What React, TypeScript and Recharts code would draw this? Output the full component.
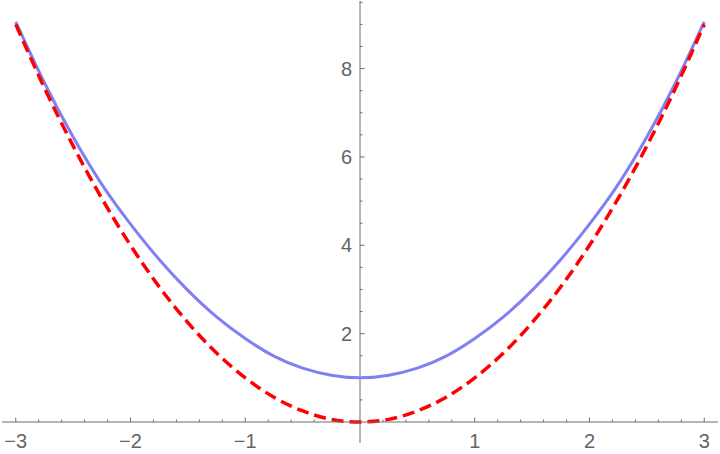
import React from "react";
import { LineChart, Line, XAxis, YAxis, ReferenceLine, ReferenceDot } from "recharts";

// values, step 0.25
const xs = [
  -3, -2.75, -2.5, -2.25, -2, -1.75, -1.5, -1.25, -1, -0.75, -0.5, -0.25, 0,
  0.25, 0.5, 0.75, 1, 1.25, 1.5, 1.75, 2, 2.25, 2.5, 2.75, 3,
];
const blueCurve = [
  9.06, 7.68, 6.45, 5.38, 4.48, 3.68, 2.98, 2.38, 1.89, 1.49, 1.22, 1.06, 1.0,
  1.06, 1.22, 1.49, 1.89, 2.38, 2.98, 3.68, 4.48, 5.38, 6.45, 7.68, 9.06,
];
const redCurve = [
  9.0, 7.56, 6.25, 5.06, 4.0, 3.06, 2.25, 1.56, 1.0, 0.56, 0.25, 0.06, 0.0,
  0.06, 0.25, 0.56, 1.0, 1.56, 2.25, 3.06, 4.0, 5.06, 6.25, 7.56, 9.0,
];

const xTicks = [
  -3, -2.8, -2.6, -2.4, -2.2, -2, -1.8, -1.6, -1.4, -1.2, -1, -0.8, -0.6, -0.4, -0.2, 0,
  0.2, 0.4, 0.6, 0.8, 1, 1.2, 1.4, 1.6, 1.8, 2, 2.2, 2.4, 2.6, 2.8, 3,
];
const yMajor = [2, 4, 6, 8];
const yMinor = [0.5, 1, 1.5, 2.5, 3, 3.5, 4.5, 5, 5.5, 6.5, 7, 7.5, 8.5, 9, 9.5];

const data = xs.map((x, i) => ({ x, blue: blueCurve[i], red: redCurve[i] }));

const AXIS = "#6e6e6e";
const LABEL = "#646464";
const FONT = "'Liberation Sans', Arial, sans-serif";

function XTick(props: any) {
  const { x, y, payload } = props;
  const v = payload.value;
  const major = Math.abs(v - Math.round(v)) < 1e-6;
  if (Math.abs(v) < 1e-6) return null;
  return (
    <g>
      <line x1={x} x2={x} y1={y} y2={y - (major ? 4.5 : 2.5)} stroke={AXIS} strokeWidth={1} />
      {major && (
        <text x={x} y={y + 25.5} textAnchor="middle" fill={LABEL} fontSize={20} fontFamily={FONT}>
          {v < 0 ? "\u2212" + Math.abs(v) : String(v)}
        </text>
      )}
    </g>
  );
}

export default function App() {
  return (
    <div style={{ position: "absolute", left: 0, top: 0, background: "#fff" }}>
      <LineChart width={720} height={454} data={data} margin={{ top: 1, right: 2, bottom: 0, left: 2 }}>
        <XAxis
          dataKey="x"
          type="number"
          domain={[-3.12, 3.12]}
          ticks={xTicks}
          interval={0}
          tickSize={0}
          tickMargin={0}
          height={32}
          tick={<XTick />}
          axisLine={{ stroke: AXIS, strokeWidth: 1 }}
          tickLine={false}
        />
        <YAxis type="number" domain={[0, 9.53]} hide />
        <ReferenceLine
          segment={[{ x: 0, y: -0.475 }, { x: 0, y: 9.53 }]}
          stroke={AXIS}
          strokeWidth={1}
          ifOverflow="visible"
        />
        {yMinor.map((v) => (
          <ReferenceLine
            key={"m" + v}
            segment={[{ x: 0, y: v }, { x: 0.022, y: v }]}
            stroke={AXIS}
            strokeWidth={1}
            ifOverflow="visible"
          />
        ))}
        {yMajor.map((v) => (
          <ReferenceLine
            key={"M" + v}
            segment={[{ x: 0, y: v }, { x: 0.04, y: v }]}
            stroke={AXIS}
            strokeWidth={1}
            ifOverflow="visible"
          />
        ))}
        {yMajor.map((v) => (
          <ReferenceDot
            key={"L" + v}
            x={0}
            y={v}
            r={0}
            stroke="none"
            fill="none"
            label={{ value: String(v), position: "left", offset: 8, fill: LABEL, fontSize: 20, fontFamily: FONT }}
          />
        ))}
        <Line
          dataKey="blue"
          type="natural"
          stroke="#8080f4"
          strokeWidth={3}
          dot={false}
          activeDot={false}
          isAnimationActive={false}
        />
        <Line
          dataKey="red"
          type="natural"
          stroke="#ff0000"
          strokeWidth={3.5}
          strokeDasharray="12 6"
          dot={false}
          activeDot={false}
          isAnimationActive={false}
        />
      </LineChart>
    </div>
  );
}
